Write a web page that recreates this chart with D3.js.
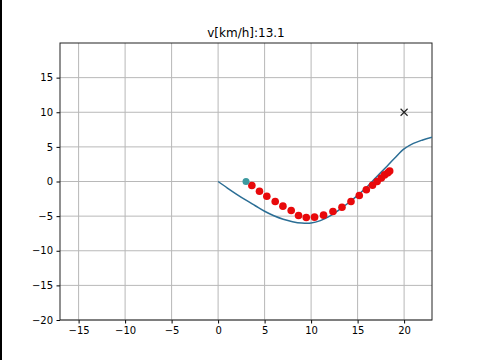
<!DOCTYPE html>
<html><head><meta charset="utf-8">
<script src="https://cdn.jsdelivr.net/npm/d3@7"></script>
<style>body{margin:0;background:#fff}svg{display:block}</style>
</head><body>
<svg id="c" width="480" height="360"></svg>
<script>
const titleText = "v[km/h]:13.1";
const xTicks = [-15, -10, -5, 0, 5, 10, 15, 20];
const yTicks = [-20, -15, -10, -5, 0, 5, 10, 15];
// reference path (blue line)
const pathX = [0, 1, 2, 3, 4, 5, 6, 7, 8, 9, 10, 11, 12, 13, 14, 15, 16, 17, 18, 19, 20, 21, 22, 23];
const pathY = [0, -0.95, -1.85, -2.7, -3.5, -4.3, -4.95, -5.45, -5.8, -6.0, -6.0, -5.65, -5.0, -4.1, -3.1, -2.0, -0.8, 0.6, 2.0, 3.4, 4.7, 5.5, 6.0, 6.4];
// predicted trajectory (red dots)
const trajX = [3.63, 4.45, 5.24, 6.14, 6.97, 7.86, 8.65, 9.48, 10.37, 11.34, 12.35, 13.32, 14.29, 15.18, 15.94, 16.6, 17.1, 17.55, 17.9, 18.25, 18.45];
const trajY = [-0.58, -1.40, -2.12, -2.89, -3.56, -4.18, -4.91, -5.19, -5.15, -4.86, -4.33, -3.71, -2.89, -2.02, -1.20, -0.55, 0.0, 0.5, 0.95, 1.25, 1.5];
// current position (cyan) and goal (x marker)
const startPt = [3.0, 0.0];
const goalPt = [20, 10];

const svg = d3.select("#c");
const L = 60, R = 432, T = 43, B = 320;
const x = d3.scaleLinear().domain([-17, 23]).range([L, R]);
const y = d3.scaleLinear().domain([-20, 20]).range([B, T]);

svg.append("rect").attr("x",0).attr("y",0).attr("width",2).attr("height",360).attr("fill","#000");

const font = "DejaVu Sans, sans-serif";
const fmt = d => (d < 0 ? "\u2212" + Math.abs(d) : "" + d);

// grid
svg.append("g").selectAll("line").data(xTicks).join("line")
  .attr("x1", d => x(d)).attr("x2", d => x(d)).attr("y1", T).attr("y2", B)
  .attr("stroke", "#b8b8b8").attr("stroke-width", 1);
svg.append("g").selectAll("line").data(yTicks).join("line")
  .attr("y1", d => y(d)).attr("y2", d => y(d)).attr("x1", L).attr("x2", R)
  .attr("stroke", "#b8b8b8").attr("stroke-width", 1);

// axes
const xAxis = d3.axisBottom(x).tickValues(xTicks).tickFormat(fmt).tickSize(3.5).tickPadding(3.5);
const yAxis = d3.axisLeft(y).tickValues(yTicks).tickFormat(fmt).tickSize(3.5).tickPadding(3.5);
const gx = svg.append("g").attr("transform", `translate(0,${B})`).call(xAxis);
const gy = svg.append("g").attr("transform", `translate(${L},0)`).call(yAxis);
[gx, gy].forEach(g => {
  g.select(".domain").remove();
  g.selectAll("text").attr("font-family", font).attr("font-size", 10).attr("fill", "#000");
  g.selectAll("line").attr("stroke", "#000");
});

// frame
svg.append("rect").attr("x", L).attr("y", T).attr("width", R - L).attr("height", B - T)
  .attr("fill", "none").attr("stroke", "#222").attr("stroke-width", 1);

svg.append("clipPath").attr("id","clp").append("rect")
  .attr("x", L).attr("y", T).attr("width", R - L).attr("height", B - T);

const plot = svg.append("g").attr("clip-path", "url(#clp)");

// path line
const line = d3.line().curve(d3.curveCatmullRom.alpha(0.5)).x(d => x(d[0])).y(d => y(d[1]));
plot.append("path").datum(pathX.map((v, i) => [v, pathY[i]]))
  .attr("d", line).attr("fill", "none").attr("stroke", "#2b6e95").attr("stroke-width", 1.5);

// trajectory dots
plot.append("g").selectAll("circle").data(trajX.map((v, i) => [v, trajY[i]])).join("circle")
  .attr("cx", d => x(d[0])).attr("cy", d => y(d[1])).attr("r", 3.8)
  .attr("fill", "#e8090b");

// start point
plot.append("circle").attr("cx", x(startPt[0])).attr("cy", y(startPt[1])).attr("r", 3.5)
  .attr("fill", "#3d9aa0");

// goal marker
const gs = 3.5;
const gg = plot.append("g").attr("stroke", "#222").attr("stroke-width", 1.2);
gg.append("line").attr("x1", x(goalPt[0]) - gs).attr("y1", y(goalPt[1]) - gs).attr("x2", x(goalPt[0]) + gs).attr("y2", y(goalPt[1]) + gs);
gg.append("line").attr("x1", x(goalPt[0]) - gs).attr("y1", y(goalPt[1]) + gs).attr("x2", x(goalPt[0]) + gs).attr("y2", y(goalPt[1]) - gs);

// title
svg.append("text").attr("x", (L + R) / 2).attr("y", 37).attr("text-anchor", "middle")
  .attr("font-family", font).attr("font-size", 12).attr("fill", "#000").text(titleText);
</script>
</body></html>
